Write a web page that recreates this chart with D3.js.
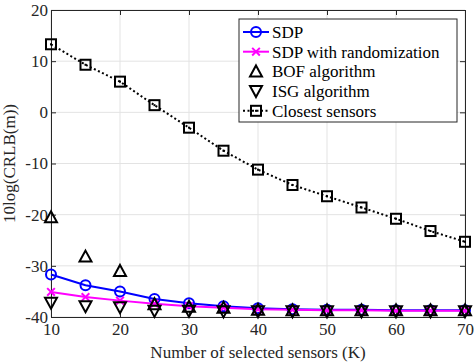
<!DOCTYPE html>
<html>
<head>
<meta charset="utf-8">
<script src="https://cdn.jsdelivr.net/npm/d3@7/dist/d3.min.js"></script>
<style>
  body { margin: 0; background: #fff; }
  svg { display: block; font-family: "Liberation Serif", "Times New Roman", serif; }
</style>
</head>
<body>
<div id="plot"></div>
<script>
// data
const K = [10, 15, 20, 25, 30, 35, 40, 45, 50, 55, 60, 65, 70];
const sdp = [-31.7, -33.8, -35.0, -36.5, -37.3, -37.9, -38.3, -38.5, -38.6, -38.6, -38.7, -38.7, -38.7];
const sdpRand = [-35.1, -36.1, -36.8, -37.4, -37.9, -38.2, -38.5, -38.6, -38.7, -38.7, -38.8, -38.8, -38.8];
const bof = [-20.5, -28.2, -31.0, -37.5, -38.0, -38.2, -38.6, -38.7, -38.7, -38.7, -38.7, -38.7, -38.7];
const isg = [-37.2, -37.9, -38.1, -38.8, -38.8, -38.9, -38.9, -38.9, -38.9, -38.9, -38.9, -38.9, -38.9];
const closest = [13.3, 9.3, 6.0, 1.4, -3.0, -7.5, -11.2, -14.2, -16.4, -18.6, -20.8, -23.2, -25.3];
const xTicks = [10, 20, 30, 40, 50, 60, 70];
const yTicks = [20, 10, 0, -10, -20, -30, -40];
const legendLabels = ['SDP', 'SDP with randomization', 'BOF algorithm', 'ISG algorithm', 'Closest sensors'];

const W = 474, H = 364;
const FS = '17px';
const margin = { top: 10, right: 9, bottom: 47, left: 51 };
const svg = d3.select('#plot').append('svg').attr('width', W).attr('height', H);
const g = svg.append('g').attr('transform', `translate(${margin.left},${margin.top})`);
const w = W - margin.left - margin.right, h = H - margin.top - margin.bottom;

const x = d3.scaleLinear().domain([10, 70]).range([0, w]);
const y = d3.scaleLinear().domain([-40, 20]).range([h, 0]);

// grid
g.selectAll('.gx').data(xTicks).enter().append('line')
  .attr('x1', d => x(d)).attr('x2', d => x(d)).attr('y1', 0).attr('y2', h)
  .attr('stroke', '#e3e3e3').attr('stroke-width', 1);
g.selectAll('.gy').data(yTicks).enter().append('line')
  .attr('y1', d => y(d)).attr('y2', d => y(d)).attr('x1', 0).attr('x2', w)
  .attr('stroke', '#e3e3e3').attr('stroke-width', 1);

// axes (box with inward ticks)
g.append('g').attr('transform', `translate(0,${h})`)
  .call(d3.axisBottom(x).tickValues(xTicks).tickSizeInner(-5).tickSizeOuter(0).tickPadding(6)
    .tickFormat(d => String(d)));
g.append('g')
  .call(d3.axisLeft(y).tickValues(yTicks).tickSizeInner(-5).tickSizeOuter(0).tickPadding(3)
    .tickFormat(d => String(d)));
g.append('g')
  .call(d3.axisTop(x).tickValues(xTicks).tickSizeInner(-5).tickSizeOuter(0).tickFormat(''));
g.append('g').attr('transform', `translate(${w},0)`)
  .call(d3.axisRight(y).tickValues(yTicks).tickSizeInner(-5).tickSizeOuter(0).tickFormat(''));
g.selectAll('.domain, .tick line').attr('stroke', '#262626').attr('stroke-width', 1);
g.selectAll('.tick text').attr('fill', '#262626').style('font-size', FS)
  .style('font-family', '"Liberation Serif", serif');

// labels
svg.append('text').attr('x', margin.left + w / 2).attr('y', H - 6)
  .attr('text-anchor', 'middle').attr('fill', '#262626').style('font-size', FS)
  .text('Number of selected sensors (K)');
svg.append('text').attr('transform', `translate(15,${margin.top + h / 2}) rotate(-90)`)
  .attr('text-anchor', 'middle').attr('fill', '#262626').style('font-size', FS)
  .text('10log(CRLB(m))');

const line = d3.line().x((d, i) => x(K[i])).y(d => y(d));
const plotArea = g.append('g');

// marker painters
const drawMarker = function(sel, type) {
  if (type === 'circle') {
    sel.append('circle').attr('r', 5).attr('fill', 'none').attr('stroke', '#0000ff').attr('stroke-width', 2);
  } else if (type === 'cross') {
    sel.append('path').attr('d', d3.symbol().type(d3.symbolX).size(40)())
      .attr('fill', 'none').attr('stroke', '#ff00ff').attr('stroke-width', 2);
  } else if (type === 'up') {
    sel.append('path').attr('d', 'M0,-6L6,5L-6,5Z')
      .attr('fill', 'none').attr('stroke', '#000').attr('stroke-width', 2);
  } else if (type === 'down') {
    sel.append('path').attr('d', 'M0,6L6,-5L-6,-5Z')
      .attr('fill', 'none').attr('stroke', '#000').attr('stroke-width', 2);
  } else if (type === 'square') {
    sel.append('rect').attr('x', -5).attr('y', -5).attr('width', 10).attr('height', 10)
      .attr('fill', 'none').attr('stroke', '#000').attr('stroke-width', 2);
    sel.append('rect').attr('x', -1).attr('y', -1).attr('width', 2).attr('height', 2).attr('fill', '#000');
  }
};

const series = [
  { data: sdp, color: '#0000ff', marker: 'circle', dash: null },
  { data: sdpRand, color: '#ff00ff', marker: 'cross', dash: null },
  { data: bof, color: null, marker: 'up', dash: null },
  { data: isg, color: null, marker: 'down', dash: null },
  { data: closest, color: '#000', marker: 'square', dash: '2,2.5' }
];

series.forEach(function(s) {
  if (s.color) {
    plotArea.append('path').datum(s.data).attr('d', line)
      .attr('fill', 'none').attr('stroke', s.color).attr('stroke-width', 2)
      .attr('stroke-dasharray', s.dash);
  }
  plotArea.selectAll(null).data(s.data).enter().append('g')
    .attr('transform', (d, i) => `translate(${x(K[i])},${y(d)})`)
    .each(function() { drawMarker(d3.select(this), s.marker); });
});

// legend
const lg = svg.append('g').attr('transform', 'translate(239,19)');
lg.append('rect').attr('width', 218).attr('height', 103)
  .attr('fill', '#fff').attr('stroke', '#262626').attr('stroke-width', 1);
series.forEach(function(s, i) {
  const yy = 13 + i * 19.7;
  if (s.color) {
    lg.append('line').attr('x1', 4).attr('x2', 30).attr('y1', yy).attr('y2', yy)
      .attr('stroke', s.color).attr('stroke-width', 2).attr('stroke-dasharray', s.dash);
  }
  const m = lg.append('g').attr('transform', `translate(17,${yy})`);
  drawMarker(m, s.marker);
  lg.append('text').attr('x', 33).attr('y', yy + 6).attr('fill', '#000')
    .style('font-size', FS).text(legendLabels[i]);
});
</script>
</body>
</html>
